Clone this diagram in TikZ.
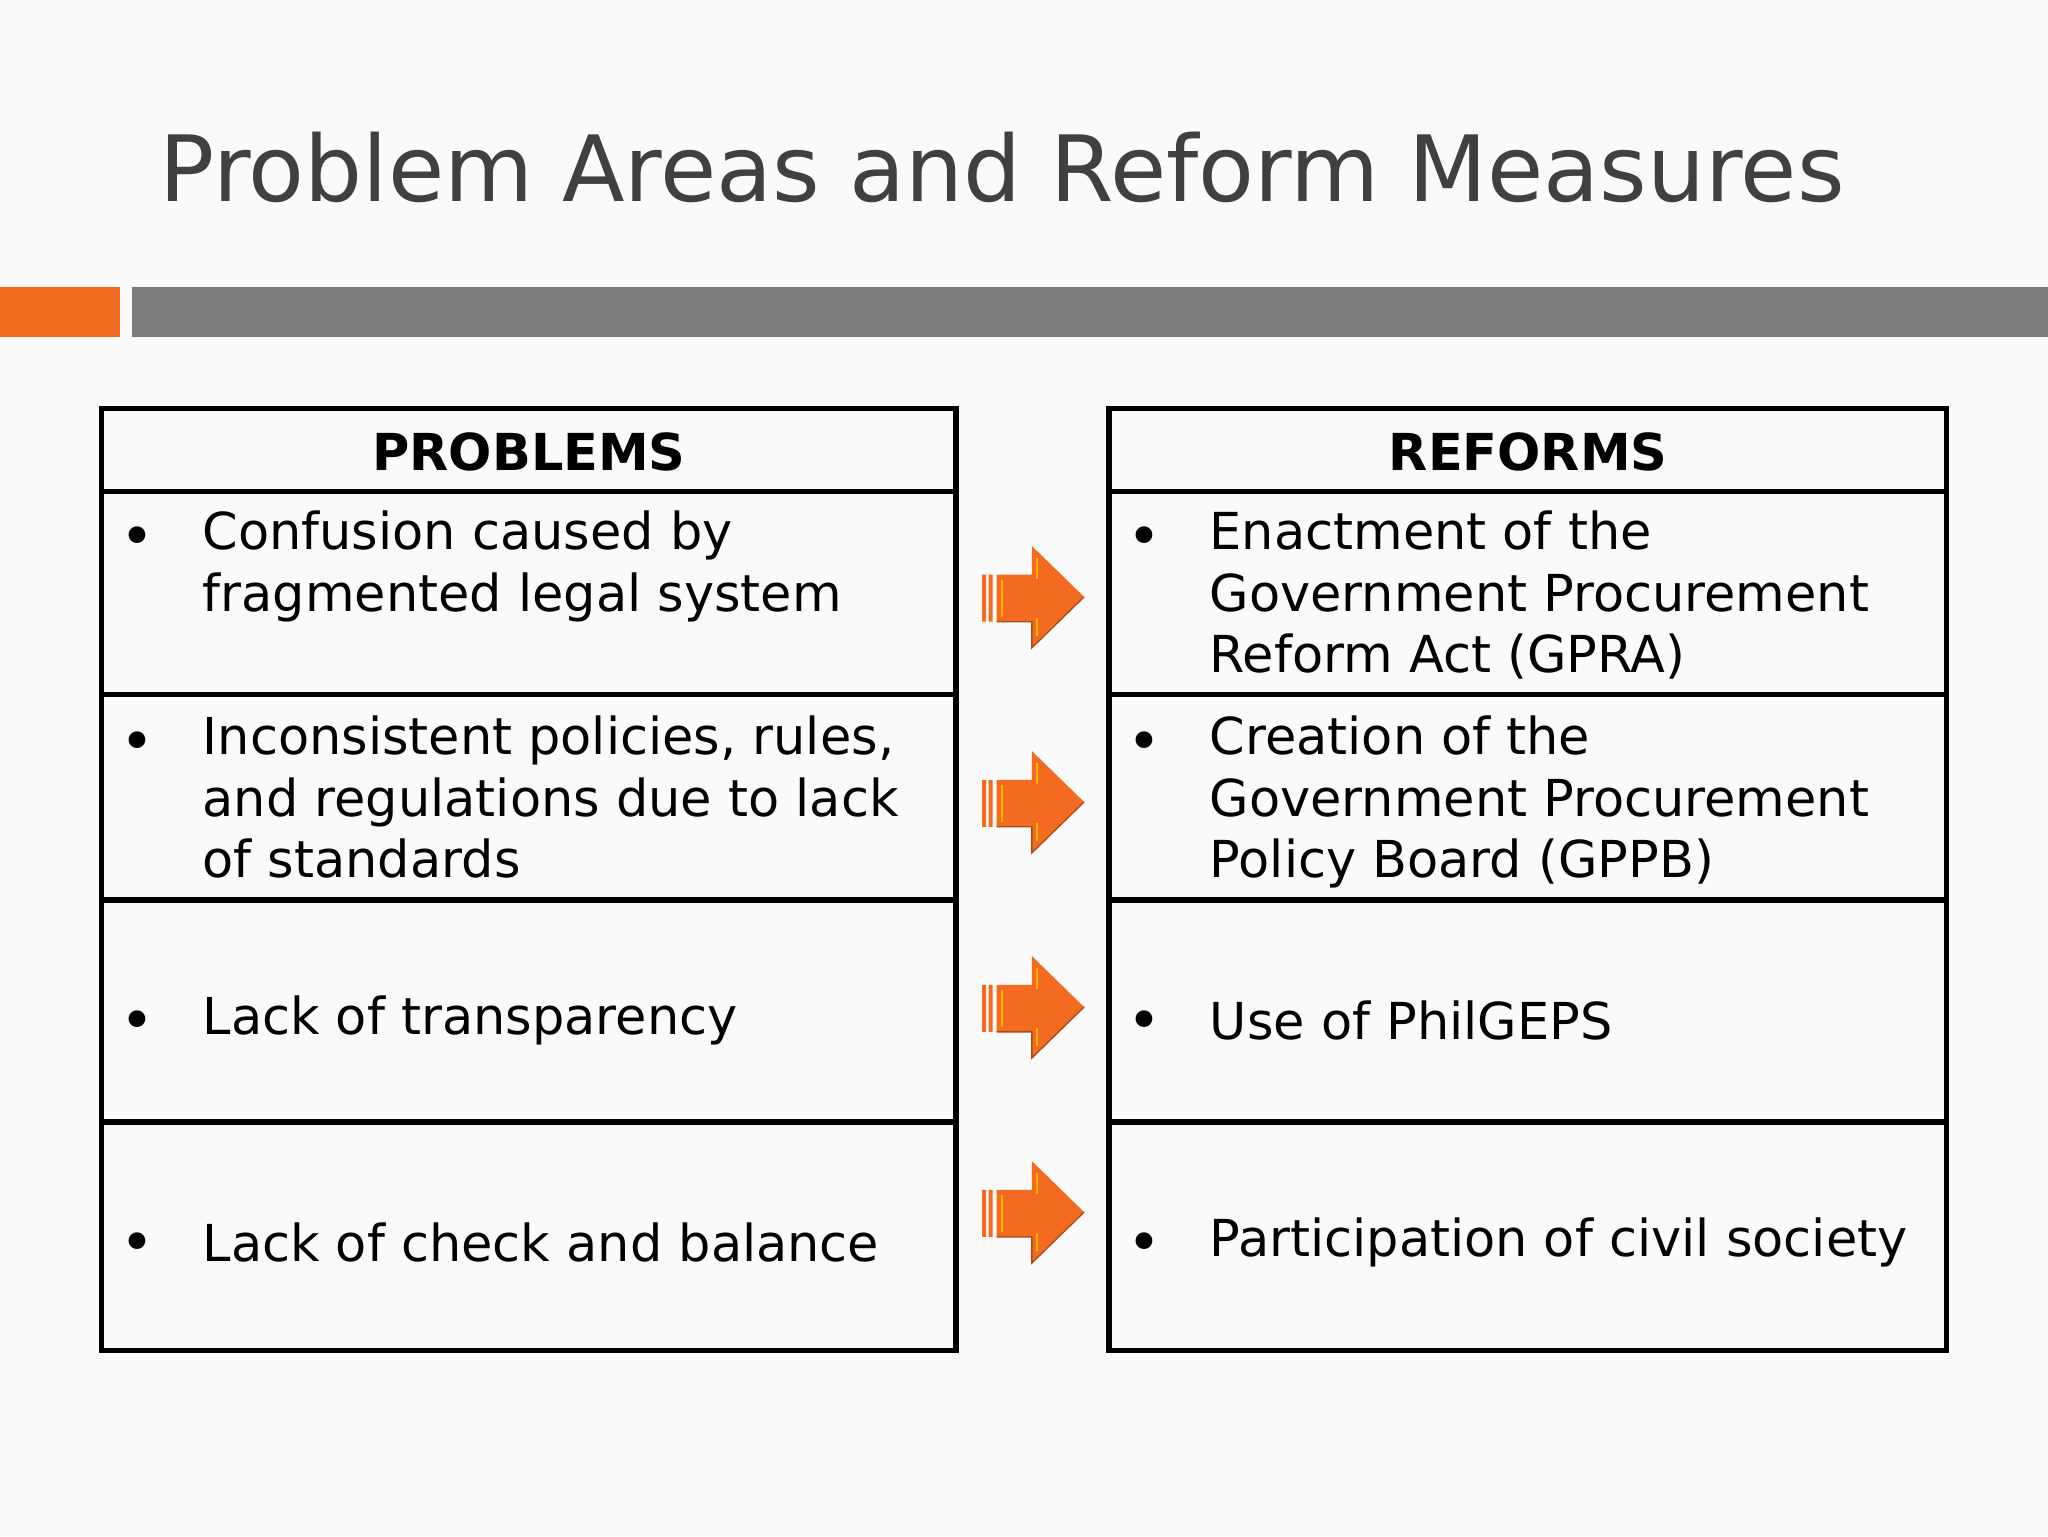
\documentclass[tikz,border=0pt]{standalone}
\usepackage{fontspec}
\setmainfont{DejaVu Sans}
\definecolor{org}{HTML}{F26B21}
\definecolor{bar}{HTML}{7B7B7D}
\definecolor{ttl}{HTML}{404040}
\begin{document}
\begin{tikzpicture}[x=1pt,y=-1pt,
  txt/.style={anchor=west,font=\fontsize{39}{47}\selectfont,align=left,inner sep=0},
  bul/.style={anchor=center,font=\fontsize{44}{47}\selectfont,inner sep=0},
  hdr/.style={anchor=center,font=\fontsize{39}{40}\selectfont\bfseries,inner sep=0},
  tbl/.style={line width=4pt}]
\fill[white!98!black] (0,0) rectangle (1568,1176);
\useasboundingbox (0,0) rectangle (1568,1176);
\node[anchor=west,text=ttl,font=\fontsize{70}{80}\selectfont,inner sep=0] (title) at (122,128) {Problem Areas and Reform Measures};
\fill[org] (0,220) rectangle (92,258);
\fill[bar] (101,220) rectangle (1568,258);
% tables
\foreach \xa/\xb in {78/732,849/1490}{
  \draw[tbl] (\xa,313) rectangle (\xb,1034);
  \foreach \yy in {376,532,689,859} \draw[tbl] (\xa,\yy) -- (\xb,\yy);
}
\node[hdr] (hp) at (405,346) {PROBLEMS};
\node[hdr] (hr) at (1170,346) {REFORMS};
\foreach \yy in {409,566,779,949} \node[bul] at (105,\yy+6) {•};
\foreach \yy in {409,566,779,949} \node[bul] at (876,\yy+6) {•};
\node[txt,anchor=north west] (p1) at (155,391) {Confusion caused by\\fragmented legal system};
\node[txt,anchor=north west] (p2) at (155,548) {Inconsistent policies, rules,\\and regulations due to lack\\of standards};
\node[txt] (p3) at (155,781) {Lack of transparency};
\node[txt] (p4) at (155,951) {Lack of check and balance};
\node[txt,anchor=north west] (r1) at (926,391) {Enactment of the\\Government Procurement\\Reform Act (GPRA)};
\node[txt,anchor=north west] (r2) at (926,548) {Creation of the\\Government Procurement\\Policy Board (GPPB)};
\node[txt] (r3) at (926,781) {Use of PhilGEPS};
\node[txt] (r4) at (926,951) {Participation of civil society};
% arrows
\foreach \yc in {457,614,771,928}{
  \begin{scope}[shift={(790,\yc)}]
    \fill[org] (-38,-17) rectangle (-35,19) (-33,-17) rectangle (-30,19);
    \fill[org] (-27,-17) -- (0,-17) -- (0,-39) -- (40,0) -- (0,39) -- (0,19) -- (-27,19) -- cycle;
    \draw[orange!60!yellow,line width=1.5pt] (-23,-13) -- (-23,15) (4,-30) -- (4,-14) (4,16) -- (4,30);
    \draw[org!70!black,line width=1pt] (-27,19) -- (0,19) -- (0,39) -- (40,0);
  \end{scope}
}
\end{tikzpicture}
\end{document}
